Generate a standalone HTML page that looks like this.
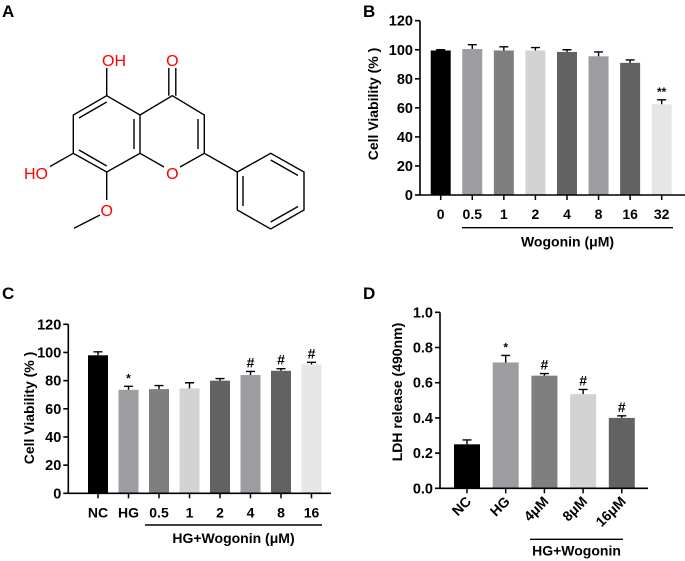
<!DOCTYPE html>
<html><head><meta charset="utf-8"><style>
html,body{margin:0;padding:0;background:#fff}
svg{display:block;font-family:"Liberation Sans",Arial,sans-serif}
</style></head><body>
<svg id="fig" width="685" height="561" viewBox="0 0 685 561">
<g stroke="#000" stroke-width="1.4" fill="none">
<path d="M106.7,95.7L140,115L140,153.3L106.7,172L73.3,153.3L73.3,115Z"/>
<path d="M79,118L106.7,102M134,119L134,149M79,150L106.7,166"/>
<path d="M140,115L172.3,95.7L204.3,115L204.3,153.3L180,167M164,167L140,153.3"/>
<path d="M198,119L198,149"/>
<path d="M168.8,95.7L168.8,68M175.8,95.7L175.8,68"/>
<path d="M106.7,95.7L106.7,68M73.3,153.3L50,166.5M106.7,172L106.7,200M100,215L74,228.3"/>
<path d="M204.3,153.3L237.3,172"/>
<path d="M237.3,172L270.7,153.3L304,172L304,210L270.7,229L237.3,210Z"/>
<path d="M243,176L243,206M270.7,160L298,175.5M270.7,222L298,206.5"/>
</g>
<g font-size="16" fill="#f00" text-anchor="middle">
<text x="114" y="66">OH</text><text x="172.3" y="66">O</text><text x="36" y="179">HO</text>
<text x="172.3" y="179">O</text><text x="106.7" y="216">O</text>
</g>
<g font-weight="bold" font-size="17">
<text x="2" y="17">A</text><text x="363" y="17">B</text><text x="2" y="299">C</text><text x="363" y="299">D</text>
</g>
<g id="charts"></g>
</svg>
<script>
const bCats=["0","0.5","1","2","4","8","16","32"];
const bVals=[99.5,100.5,99.5,99.5,98.5,95.5,91,62.5];
const bErrs=[0.5,3,2.5,2,1.5,3,2,3];
const bMarks=["","","","","","","","**"];
const bTicks=[0,20,40,60,80,100,120];
const cCats=["NC","HG","0.5","1","2","4","8","16"];
const cVals=[98,73.5,74,74.5,80,84,87,91.5];
const cErrs=[2.5,2.5,2.5,4,1.5,2.5,1.5,1.5];
const cMarks=["","*","","","","#","#","#"];
const cTicks=[0,20,40,60,80,100,120];
const dCats=["NC","HG","4μM","8μM","16μM"];
const dVals=[0.25,0.715,0.64,0.535,0.40];
const dErrs=[0.025,0.04,0.012,0.027,0.012];
const dMarks=["","*","#","#","#"];
const dTicks=["0.0","0.2","0.4","0.6","0.8","1.0"];
const NS="http://www.w3.org/2000/svg";
const root=document.getElementById('charts');
function mk(t,a,p){const e=document.createElementNS(NS,t);for(const k in a)e.setAttribute(k,a[k]);(p||root).appendChild(e);return e;}
function chart(cfg,cats,vals,errs,marks,ticks,colors){
  const g=mk('g',{});
  
  
  const y=v=>cfg.y0-(v-cfg.min)/(cfg.max-cfg.min)*(cfg.y0-cfg.y1);
  const x=i=>cfg.c0+i*cfg.step;
  cats.forEach((c,i)=>{
    const r=mk('rect',{x:x(i)-cfg.bw/2,y:y(vals[i]),width:cfg.bw,height:cfg.y0-y(vals[i]),fill:colors[i]},g);
    
    
    const top=y(vals[i]+errs[i]);
    const eb=mk('path',{d:`M${x(i)},${y(vals[i])}V${top}M${x(i)-4.5},${top}H${x(i)+4.5}`,stroke:'#000','stroke-width':1.4,fill:'none'},g);
    
    
    if(marks[i]){const m=mk('text',{x:x(i),y:top-4,'text-anchor':'middle','font-size':marks[i]=='#'?14:12,'font-weight':'bold'},g);m.textContent=marks[i];
      
      }
    mk('line',{x1:x(i),x2:x(i),y1:cfg.y0,y2:cfg.y0+5,stroke:'#000','stroke-width':1.5},g);
    let t;
    if(cfg.rot){t=mk('text',{x:x(i)+5,y:cfg.y0+14,'text-anchor':'end','font-size':14,'font-weight':'bold',transform:`rotate(-45 ${x(i)+5} ${cfg.y0+14})`},g);}
    else t=mk('text',{x:x(i),y:cfg.y0+24,'text-anchor':'middle','font-size':14,'font-weight':'bold'},g);
    t.textContent=c;
    
    
  });
  const ax=mk('path',{d:`M${cfg.ax},${cfg.y1}V${cfg.y0}H${cfg.xe}`,stroke:'#000','stroke-width':1.6,fill:'none'},g);
  
  
  ticks.forEach(tv=>{
    const v=parseFloat(tv),yy=y(v);
    mk('line',{x1:cfg.ax-5,x2:cfg.ax,y1:yy,y2:yy,stroke:'#000','stroke-width':1.6},g);
    const t=mk('text',{x:cfg.ax-7,y:yy+5,'text-anchor':'end','font-size':14.5,'font-weight':'bold'},g);
    t.textContent=tv;
    
    
  });
  const yt=mk('text',{x:cfg.ytx,y:cfg.yty,'text-anchor':'middle','font-size':14,'font-weight':'bold',transform:`rotate(-90 ${cfg.ytx} ${cfg.yty})`},g);
  yt.textContent=cfg.ytitle;
  
  
  mk('line',{x1:cfg.l0,x2:cfg.l1,y1:cfg.ly,y2:cfg.ly,stroke:'#000','stroke-width':1.4},g);
  const xt=mk('text',{x:(cfg.l0+cfg.l1)/2,y:cfg.ly+cfg.xtOff,'text-anchor':'middle','font-size':14,'font-weight':'bold'},g);
  xt.textContent=cfg.xtitle;
  
  
}
const K='#000',L='#9d9da1',M='#7f7f7f',P='#d3d3d3',D='#626262',W='#e6e6e6';
chart({name:'chart-b-cell-viability',y0:195,y1:20.7,min:0,max:120,c0:440.7,step:31.57,bw:20,ax:420,xe:685,ytx:378,yty:104,ytitle:'Cell Viability (% )',l0:462,l1:673,ly:227.7,xtOff:19,xtitle:'Wogonin (μM)'},bCats,bVals,bErrs,bMarks,bTicks,[K,L,M,P,D,L,D,W]);
chart({name:'chart-c-cell-viability',y0:493.3,y1:324.3,min:0,max:120,c0:98,step:30.5,bw:20,ax:68.3,xe:331,ytx:34,yty:408,ytitle:'Cell Viability (% )',l0:145,l1:322,ly:525,xtOff:18,xtitle:'HG+Wogonin (μM)'},cCats,cVals,cErrs,cMarks,cTicks,[K,L,M,P,D,L,D,W]);
chart({name:'chart-d-ldh-release',y0:488.3,y1:312.3,min:0,max:1,c0:467,step:38.7,bw:26,ax:440,xe:648,ytx:402,yty:392,ytitle:'LDH release (490nm)',l0:530,l1:623,ly:539.3,xtOff:16,xtitle:'HG+Wogonin',rot:true},dCats,dVals,dErrs,dMarks,dTicks,[K,L,M,P,D]);
</script>
</body></html>
